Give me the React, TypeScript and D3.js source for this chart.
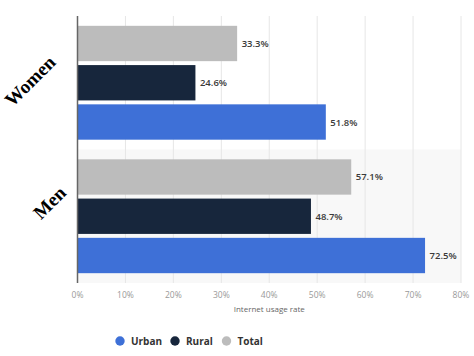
import React from "react";
import * as d3 from "d3";

const categories = ["Women", "Men"];
const seriesNames = ["Total", "Rural", "Urban"];
const totalValues = [33.3, 57.1];
const ruralValues = [24.6, 48.7];
const urbanValues = [51.8, 72.5];
const xTicks = [0, 10, 20, 30, 40, 50, 60, 70, 80];
const legendNames = ["Urban", "Rural", "Total"];
const colors: Record<string, string> = { Urban: "#3e70d7", Rural: "#17263c", Total: "#bcbcbc" };

export default function App() {
  const W = 474, H = 356;
  const left = 77.5, right = 461, top = 16, bottom = 283;
  const x = d3.scaleLinear().domain([0, 80]).range([left, right]);
  const y = d3.scaleBand().domain(categories).range([top, bottom]);
  const inner = d3.scaleBand().domain(seriesNames).range([0, y.bandwidth()]).paddingInner(0.1).paddingOuter(0.25);
  const valuesBy: Record<string, number[]> = { Total: totalValues, Rural: ruralValues, Urban: urbanValues };
  const labelPos = [
    { cx: 30, cy: 81 },
    { cx: 49.5, cy: 202.5 },
  ];
  const legendX = [120, 175, 226.5];
  return (
    <svg width={W} height={H} style={{ position: "absolute", left: 0, top: 0, background: "#fff" }}>
      {categories.map((c, i) =>
        i % 2 === 1 ? (
          <rect key={"band" + c} x={left} y={y(c)!} width={right - left} height={y.bandwidth()} fill="#f8f8f8" />
        ) : null
      )}
      {xTicks.map((t) => (
        <line key={"g" + t} x1={x(t)} x2={x(t)} y1={top} y2={bottom} stroke="#e6e6e6" strokeWidth={1} />
      ))}
      {categories.map((c, ci) =>
        seriesNames.map((s) => {
          const v = valuesBy[s][ci];
          const by = y(c)! + inner(s)!;
          return (
            <g key={c + s}>
              <rect x={x(0)} y={by} width={x(v) - x(0)} height={inner.bandwidth()} fill={colors[s]} />
              <text
                x={x(v) + 4.5}
                y={by + inner.bandwidth() / 2}
                dominantBaseline="central"
                fontFamily="'Open Sans', sans-serif"
                fontSize={9.5}
                fontWeight={600}
                fill="#3a3a3a"
              >
                {v.toFixed(1)}%
              </text>
            </g>
          );
        })
      )}
      <line x1={left} x2={left} y1={top} y2={bottom} stroke="#666" strokeWidth={1.5} />
      {xTicks.map((t) => (
        <text key={"t" + t} x={x(t)} y={298} textAnchor="middle" fontFamily="'Open Sans', sans-serif" fontSize={8.5} fill="#999">
          {t}%
        </text>
      ))}
      <text x={(left + right) / 2} y={312} textAnchor="middle" fontFamily="'Open Sans', sans-serif" fontSize={8} fill="#666">
        Internet usage rate
      </text>
      {categories.map((c, i) => (
        <text
          key={"l" + c}
          x={labelPos[i].cx}
          y={labelPos[i].cy}
          textAnchor="middle"
          dominantBaseline="central"
          transform={`rotate(-45 ${labelPos[i].cx} ${labelPos[i].cy})`}
          fontFamily="'Liberation Serif', serif"
          fontWeight="bold"
          fontSize={19}
          fill="#000"
        >
          {c}
        </text>
      ))}
      {legendNames.map((n, i) => (
        <g key={"lg" + n}>
          <circle cx={legendX[i]} cy={341} r={4.7} fill={colors[n]} />
          <text x={legendX[i] + 11} y={341} dominantBaseline="central" fontFamily="'Open Sans', sans-serif" fontSize={10} fontWeight={700} fill="#333">
            {n}
          </text>
        </g>
      ))}
    </svg>
  );
}
